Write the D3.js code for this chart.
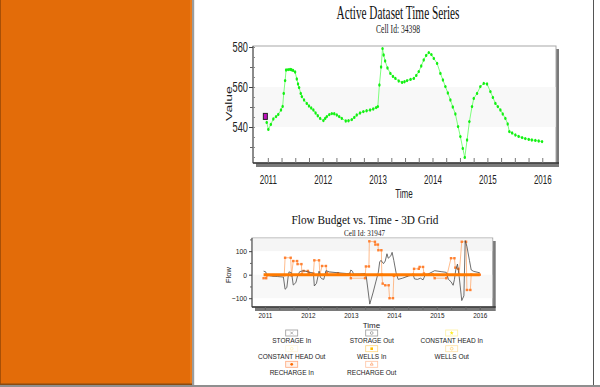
<!DOCTYPE html>
<html><head><meta charset="utf-8">
<script src="https://cdn.jsdelivr.net/npm/d3@7/dist/d3.min.js"></script>
<style>
html,body{margin:0;padding:0;background:#fff;}
svg{display:block;}
</style></head>
<body>
<svg id="c" width="600" height="387"></svg>
<script>
// ---------------- DATA ----------------
const topTitle = "Active Dataset Time Series";
const topSubtitle = "Cell Id: 34398";
const topTime = [2010.98,2011.01,2011.055,2011.10,2011.15,2011.19,2011.24,2011.27,2011.29,2011.315,2011.333,2011.37,2011.406,2011.43,2011.46,2011.497,2011.528,2011.55,2011.57,2011.60,2011.62,2011.66,2011.71,2011.75,2011.79,2011.83,2011.87,2011.91,2011.953,2012.013,2012.045,2012.075,2012.12,2012.166,2012.21,2012.257,2012.30,2012.348,2012.42,2012.47,2012.53,2012.575,2012.62,2012.68,2012.74,2012.80,2012.863,2012.92,2012.973,2013.004,2013.033,2013.064,2013.09,2013.11,2013.137,2013.18,2013.233,2013.28,2013.324,2013.385,2013.446,2013.49,2013.537,2013.60,2013.66,2013.705,2013.75,2013.795,2013.84,2013.885,2013.933,2013.98,2014.024,2014.084,2014.144,2014.19,2014.235,2014.28,2014.326,2014.37,2014.417,2014.466,2014.508,2014.552,2014.588,2014.63,2014.672,2014.72,2014.752,2014.812,2014.872,2014.934,2014.994,2015.055,2015.10,2015.146,2015.19,2015.237,2015.28,2015.328,2015.37,2015.40,2015.45,2015.51,2015.57,2015.632,2015.69,2015.754,2015.81,2015.874,2015.935,2015.996];
const topValue = [542.3,538.8,541.3,544.0,545.2,546.3,548.5,550.3,556.8,563.2,568.5,568.7,568.8,568.6,568.3,567.5,564.0,561.5,559.7,556.8,555.2,553.5,551.8,550.5,549.5,548.5,547.0,545.6,544.3,543.2,544.3,545.2,546.2,546.7,546.6,546.0,545.2,544.3,543.0,543.1,543.7,544.8,546.0,547.0,547.7,548.1,548.5,549.0,549.7,550.2,561.0,570.0,579.2,576.0,573.0,569.5,566.8,565.3,564.3,563.0,562.3,562.6,563.2,563.8,564.3,565.8,567.7,570.5,573.5,575.8,577.2,576.2,574.3,571.8,566.8,563.5,560.2,557.0,553.5,550.0,546.5,540.2,535.2,529.3,524.8,533.5,542.7,550.2,554.3,556.8,560.2,561.8,561.5,557.7,554.8,551.8,550.2,548.5,546.5,544.3,541.5,537.7,537.0,536.0,535.3,534.7,534.2,533.8,533.5,533.3,533.0,532.7];
const markerTime = [2010.955];
const markerValue = [545.3];
const topYTicks = [540, 560, 580];
const yearTicks = [2011, 2012, 2013, 2014, 2015, 2016];

const botTitle = "Flow Budget vs. Time - 3D Grid";
const botSubtitle = "Cell Id: 31947";
const storageTime = [2010.97,2011.02,2011.04,2011.15,2011.30,2011.43,2011.47,2011.51,2011.54,2011.56,2011.62,2011.66,2011.72,2011.76,2011.81,2011.90,2012.00,2012.10,2012.13,2012.15,2012.20,2012.26,2012.29,2012.32,2012.37,2012.42,2012.50,2012.70,2012.90,2012.97,2013.00,2013.04,2013.06,2013.20,2013.33,2013.36,2013.44,2013.52,2013.58,2013.64,2013.67,2013.70,2013.76,2013.80,2013.84,2013.87,2013.93,2013.96,2014.00,2014.05,2014.10,2014.20,2014.35,2014.45,2014.48,2014.55,2014.62,2014.68,2014.72,2014.80,2014.95,2015.10,2015.22,2015.27,2015.33,2015.38,2015.41,2015.44,2015.48,2015.52,2015.58,2015.63,2015.66,2015.70,2015.76,2015.80,2015.86,2016.00];
const storageValue = [15,12,-2,-6,-8,-10,-62,-55,-10,12,8,-44,-34,-5,13,17,12,8,6,-48,-37,15,-10,-17,-20,17,12,8,5,4,20,14,2,3,5,-10,-125,-74,-31,11,54,61,47,58,89,70,80,95,60,10,-20,-15,-5,0,-18,-20,-15,-22,-5,3,17,13,10,-20,-30,-45,-20,20,45,-8,-110,-90,145,120,60,20,14,8];
const rechargeOutTime = [2010.97,2011.03,2011.05,2011.20,2011.45,2011.47,2011.60,2011.62,2011.66,2011.75,2011.76,2011.85,2011.86,2011.90,2012.00,2012.02,2012.13,2012.15,2012.26,2012.28,2012.33,2012.42,2012.44,2012.70,2012.98,2013.00,2013.33,2013.35,2013.42,2013.43,2013.56,2013.57,2013.63,2013.64,2013.71,2013.72,2013.74,2013.80,2013.88,2013.90,2013.98,2014.00,2014.30,2014.45,2014.47,2014.58,2014.60,2014.68,2014.70,2014.90,2014.95,2015.22,2015.24,2015.33,2015.41,2015.43,2015.50,2015.52,2015.58,2015.68,2015.70,2015.78,2015.80,2016.00];
const rechargeOutValue = [-15,-15,-3,-2,-2,72,72,-3,58,58,45,45,3,16,16,8,5,61,61,0,37,37,8,6,3,-15,-15,35,35,142,140,128,128,104,104,0,-38,-45,-45,-100,-100,-5,-3,0,25,25,33,33,5,2,-15,-15,0,70,70,30,25,0,140,140,-65,-65,0,0];
const rechargeInTime = [2010.97,2011.5,2012.0,2012.5,2013.0,2013.5,2014.0,2014.5,2015.0,2015.5,2016.0];
const rechargeInValue = [0,0,0,0,0,0,0,0,0,0,0];
const botYTicks = [-100, 0, 100];

const legendNames = ["STORAGE In","STORAGE Out","CONSTANT HEAD In","CONSTANT HEAD Out","WELLS In","WELLS Out","RECHARGE In","RECHARGE Out"];
const legendColors = ["#8c8c8c","#8c8c8c","#ffee22","#fff0b0","#ffc000","#ffcf66","#ff6a00","#ff9a60"];
const legendBorders = ["#9a9a9a","#9a9a9a","#fff1a0","#fff6d8","#ffd47a","#ffe0a0","#ffa77a","#ffc2a0"];
const legendSymbols = ["cross","circle","star","circle","square","circle","dot","triangle"];

// ---------------- DRAW ----------------
const svg = d3.select("#c");
function squeeze(sel, f){
  sel.each(function(){
    const L = this.getComputedTextLength();
    d3.select(this).attr("textLength", L*f).attr("lengthAdjust","spacingAndGlyphs");
  });
}
function fitTo(sel, w){ sel.attr("textLength", w).attr("lengthAdjust","spacingAndGlyphs"); }

// background panel
svg.append("rect").attr("x",0).attr("y",0).attr("width",600).attr("height",387).attr("fill","#fff");
svg.append("rect").attr("x",0).attr("y",0).attr("width",192).attr("height",385).attr("fill","#e36c09");
svg.append("rect").attr("x",0).attr("y",0).attr("width",1).attr("height",385).attr("fill","#a84f06");
svg.append("rect").attr("x",190.5).attr("y",0).attr("width",1).attr("height",385).attr("fill","#f08a30");
svg.append("rect").attr("x",0).attr("y",383.5).attr("width",192).attr("height",1.5).attr("fill","#8a4a10");
svg.append("rect").attr("x",192).attr("y",0).attr("width",2.2).attr("height",387).attr("fill","#9c9c9c");
svg.append("rect").attr("x",0).attr("y",385).attr("width",600).attr("height",2).attr("fill","#8f8f8f");
svg.append("line").attr("x1",593.5).attr("x2",593.5).attr("y1",0).attr("y2",385).attr("stroke","#555").attr("stroke-width",1);

// ======== TOP CHART ========
const tx = d3.scaleLinear().domain([2010.73, 2016.25]).range([253, 556]);
const ty = d3.scaleLinear().domain([521.5, 580.5]).range([164, 46]);
const tL = 253, tR = 556, tT = 46, tB = 163;

svg.append("text").attr("x",398).attr("y",18.5).attr("text-anchor","middle")
  .attr("font-family","Liberation Serif, Times New Roman, serif").attr("font-size",19).attr("fill","#111")
  .text(topTitle).call(fitTo, 123);
svg.append("text").attr("x",398).attr("y",33).attr("text-anchor","middle")
  .attr("font-family","Liberation Serif, Times New Roman, serif").attr("font-size",12).attr("fill","#222")
  .text(topSubtitle).call(fitTo, 44);

svg.append("rect").attr("x",tL+3).attr("y",tT+3).attr("width",tR-tL).attr("height",tB-tT+1).attr("fill","#7a7a7a");
svg.append("rect").attr("x",tL).attr("y",tT).attr("width",tR-tL).attr("height",tB-tT).attr("fill","#fff").attr("stroke","#a8a8a8").attr("stroke-width",1);
svg.append("rect").attr("x",tL+0.5).attr("y",ty(560)).attr("width",tR-tL-1).attr("height",ty(540)-ty(560)).attr("fill","#f8f8f8");

// y axis
const tyAxis = svg.append("g").attr("transform",`translate(${tL},0)`)
  .call(d3.axisLeft(ty).tickValues(topYTicks).tickSize(4).tickPadding(1).tickFormat(d3.format("d")));
tyAxis.select(".domain").attr("d",`M0,${tT}V${tB}`).attr("stroke","#444");
tyAxis.selectAll(".tick line").attr("stroke","#444");
tyAxis.selectAll("text").attr("font-family","Liberation Sans, Arial, sans-serif").attr("font-size",14).attr("fill","#222").call(squeeze, 0.66);
svg.append("g").attr("transform",`translate(${tL},0)`)
  .call(d3.axisLeft(ty).tickValues([530,550,570]).tickSize(3).tickFormat(""))
  .call(g=>g.select(".domain").remove()).selectAll("line").attr("stroke","#666");
svg.append("g").attr("transform",`translate(${tL},0)`)
  .call(d3.axisRight(ty).tickValues(d3.range(525,581,5)).tickSize(2).tickFormat(""))
  .call(g=>g.select(".domain").remove()).selectAll("line").attr("stroke","#888");

// x axis
const quarterTicks = d3.range(2011, 2016.01, 0.25);
const txAxis = svg.append("g").attr("transform",`translate(0,${tB})`)
  .call(d3.axisBottom(tx).tickValues(yearTicks).tickSize(0).tickPadding(12).tickFormat(d3.format("d")));
txAxis.select(".domain").attr("d",`M${tL},0H${tR+3}`).attr("stroke","#333").attr("stroke-width",1.6);
txAxis.selectAll("text").attr("font-family","Liberation Sans, Arial, sans-serif").attr("font-size",12.5).attr("fill","#222").call(squeeze, 0.64);
svg.append("g").attr("transform",`translate(0,${tB})`)
  .call(d3.axisBottom(tx).tickValues(quarterTicks).tickSize(-5).tickFormat(""))
  .call(g=>g.select(".domain").remove()).selectAll("line").attr("stroke","#777");

svg.append("text").attr("x",404).attr("y",197.5).attr("text-anchor","middle")
  .attr("font-family","Liberation Sans, Arial, sans-serif").attr("font-size",13).attr("fill","#222")
  .text("Time").call(squeeze, 0.62);
svg.append("text").attr("transform","translate(232,103.5) rotate(-90) scale(1,0.68)").attr("text-anchor","middle")
  .attr("font-family","Liberation Sans, Arial, sans-serif").attr("font-size",14).attr("fill","#222")
  .text("Value");

const topData = d3.zip(topTime, topValue);
svg.append("path").datum(topData)
  .attr("d", d3.line().x(d=>tx(d[0])).y(d=>ty(d[1])))
  .attr("fill","none").attr("stroke","#7dff7d").attr("stroke-width",1);
svg.append("g").selectAll("ellipse").data(topData).join("ellipse")
  .attr("cx",d=>tx(d[0])).attr("cy",d=>ty(d[1])).attr("rx",1.2).attr("ry",1.7).attr("fill","#13f013");

svg.append("g").selectAll("rect").data(d3.zip(markerTime, markerValue)).join("rect")
  .attr("x",d=>tx(d[0])-2).attr("y",d=>ty(d[1])-3).attr("width",4).attr("height",6)
  .attr("fill","#c010c0").attr("stroke","#222").attr("stroke-width",1);

// ======== BOTTOM CHART ========
const bL = 252, bR = 492.7, bT = 238, bB = 307;
const bx = d3.scaleLinear().domain([2010.7, 2016.3]).range([bL, bR]);
const by = d3.scaleLinear().domain([-137.4, 156]).range([bB, bT]);

svg.append("text").attr("x",365).attr("y",224).attr("text-anchor","middle")
  .attr("font-family","Liberation Serif, Times New Roman, serif").attr("font-size",12.5).attr("fill","#111")
  .text(botTitle).call(fitTo, 147);
svg.append("text").attr("x",364.5).attr("y",235.5).attr("text-anchor","middle")
  .attr("font-family","Liberation Serif, Times New Roman, serif").attr("font-size",8).attr("fill","#222")
  .text(botSubtitle).call(fitTo, 41);

svg.append("rect").attr("x",bL+3).attr("y",bT+3).attr("width",bR-bL).attr("height",bB-bT+1).attr("fill","#7a7a7a");
svg.append("rect").attr("x",bL).attr("y",bT).attr("width",bR-bL).attr("height",bB-bT).attr("fill","#fff").attr("stroke","#a8a8a8").attr("stroke-width",1);
svg.append("rect").attr("x",bL+0.5).attr("y",bT+0.5).attr("width",bR-bL-1).attr("height",by(100)-bT-0.5).attr("fill","#f5f5f5");
svg.append("rect").attr("x",bL+0.5).attr("y",by(0)).attr("width",bR-bL-1).attr("height",by(-100)-by(0)).attr("fill","#f8f8f8");

const byAxis = svg.append("g").attr("transform",`translate(${bL},0)`)
  .call(d3.axisLeft(by).tickValues(botYTicks).tickSize(3).tickPadding(2).tickFormat(d3.format("d")));
byAxis.select(".domain").attr("d",`M0,${bT}V${bB}`).attr("stroke","#444");
byAxis.selectAll(".tick line").attr("stroke","#444");
byAxis.selectAll("text").attr("font-family","Liberation Sans, Arial, sans-serif").attr("font-size",7.5).attr("fill","#222").call(squeeze, 0.9);
svg.append("g").attr("transform",`translate(${bL},0)`)
  .call(d3.axisLeft(by).tickValues([-50,50,150]).tickSize(2).tickFormat(""))
  .call(g=>g.select(".domain").remove()).selectAll("line").attr("stroke","#666");

const bxAxis = svg.append("g").attr("transform",`translate(0,${bB})`)
  .call(d3.axisBottom(bx).tickValues(yearTicks).tickSize(3).tickPadding(3).tickFormat(d3.format("d")));
bxAxis.select(".domain").attr("d",`M${bL},0H${bR+3}`).attr("stroke","#333").attr("stroke-width",1.4);
bxAxis.selectAll(".tick line").attr("stroke","#555");
bxAxis.selectAll("text").attr("font-family","Liberation Sans, Arial, sans-serif").attr("font-size",7.5).attr("fill","#222").call(squeeze, 0.85);
svg.append("g").attr("transform",`translate(0,${bB})`)
  .call(d3.axisBottom(bx).tickValues(d3.range(2011, 2016.01, 1/3)).tickSize(3).tickFormat(""))
  .call(g=>g.select(".domain").remove()).selectAll("line").attr("stroke","#666");

svg.append("text").attr("x",371.5).attr("y",327.5).attr("text-anchor","middle")
  .attr("font-family","Liberation Sans, Arial, sans-serif").attr("font-size",8).attr("fill","#222").text("Time");
svg.append("text").attr("transform","translate(230.5,275) rotate(-90)").attr("text-anchor","middle")
  .attr("font-family","Liberation Sans, Arial, sans-serif").attr("font-size",7.5).attr("fill","#222").text("Flow");

const bline = d3.line().x(d=>bx(d[0])).y(d=>by(d[1]));
const rOut = d3.zip(rechargeOutTime, rechargeOutValue);
svg.append("path").datum(rOut).attr("d",bline).attr("fill","none").attr("stroke","#ffab70").attr("stroke-width",0.8);
svg.append("g").selectAll("rect").data(rOut).join("rect")
  .attr("x",d=>bx(d[0])-1.2).attr("y",d=>by(d[1])-1.2).attr("width",2.4).attr("height",2.4).attr("fill","#ff8030");
svg.append("path").datum(d3.zip(storageTime, storageValue)).attr("d",bline).attr("fill","none").attr("stroke","#4a4a4a").attr("stroke-width",0.8);
svg.append("path").datum(d3.zip(rechargeInTime, rechargeInValue)).attr("d",bline).attr("fill","none").attr("stroke","#ff7a00").attr("stroke-width",3);

// ======== LEGEND ========
const colX = [291.7, 371.7, 451.7];
const rowBoxY = [333, 348.7, 364.3];
const rowTextY = [343.2, 358.6, 374.8];
const symMap = {cross:d3.symbolTimes, circle:d3.symbolCircle, star:d3.symbolStar, square:d3.symbolSquare, dot:d3.symbolCircle, triangle:d3.symbolTriangle2};
legendNames.forEach((name,i)=>{
  const c = i % 3, r = Math.floor(i/3);
  const g = svg.append("g").attr("transform",`translate(${colX[c]},${rowBoxY[r]})`);
  g.append("rect").attr("x",-6).attr("y",-3).attr("width",12).attr("height",6)
    .attr("fill", legendSymbols[i]==="dot" ? "#fff2ea" : "#fff").attr("stroke",legendBorders[i]).attr("stroke-width",0.8);
  const filled = ["star","square","dot"].includes(legendSymbols[i]);
  g.append("path").attr("d", d3.symbol().type(symMap[legendSymbols[i]]).size(legendSymbols[i]==="square"?7:6)())
    .attr("fill", filled ? legendColors[i] : "none").attr("stroke", legendColors[i]).attr("stroke-width", filled?0:0.7);
  svg.append("text").attr("x",colX[c]).attr("y",rowTextY[r]).attr("text-anchor","middle")
    .attr("font-family","Liberation Sans, Arial, sans-serif").attr("font-size",7).attr("fill","#222")
    .text(name).call(squeeze, 0.93);
});
</script>
</body></html>
